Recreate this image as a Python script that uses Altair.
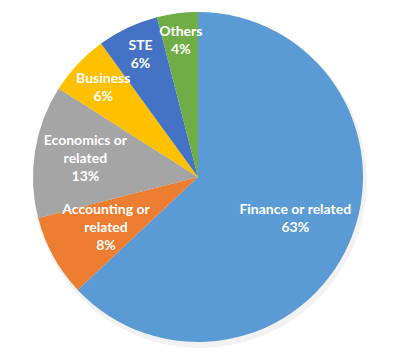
import altair as alt
import pandas as pd
import math

categories = ["Finance or related", "Accounting or related", "Economics or related",
              "Business", "STE", "Others"]
labels = ["Finance or related\n63%", "Accounting or\nrelated\n8%", "Economics or\nrelated\n13%",
          "Business\n6%", "STE\n6%", "Others\n4%"]
values = [63, 8, 13, 6, 6, 4]
colors = ["#5B9BD5", "#ED7D31", "#A5A5A5", "#FFC000", "#4472C4", "#70AD47"]

# label distance from centre (style)
label_radius = {"Finance or related": 106, "Accounting or related": 105,
                "Economics or related": 114, "Business": 130, "STE": 135, "Others": 137}

LH = 18

df = pd.DataFrame({"category": categories, "label": labels, "value": values,
                   "order": list(range(len(categories)))})
df["lr"] = df["category"].map(label_radius)

CX, CY, R = 190, 169, 165
total = sum(values)

shadow = alt.Chart(df).mark_arc(color="#000000", opacity=0.05, radius=R + 2).encode(
    theta=alt.Theta("value:Q", stack=True), order=alt.Order("order:Q"),
    x=alt.value(CX + 2), y=alt.value(CY + 4))

pie = alt.Chart(df).mark_arc(radius=R).encode(
    theta=alt.Theta("value:Q", stack=True),
    order=alt.Order("order:Q"),
    color=alt.Color("category:N", scale=alt.Scale(domain=categories, range=colors), legend=None),
    x=alt.value(CX), y=alt.value(CY),
)


def label_layer(nlines):
    return alt.Chart(df).transform_window(
        cum="sum(value)", sort=[alt.SortField("order")], frame=[None, 0]
    ).transform_calculate(
        mid="datum.cum - datum.value / 2",
        nl="split(datum.label, '\\n').length"
    ).transform_filter(f"datum.nl == {nlines}").mark_text(
        font="Lato", fontWeight="bold", fontSize=14, color="white",
        lineBreak="\n", lineHeight=LH, align="center", baseline="middle",
        dy=-(nlines - 1) * LH / 2).encode(
        text="label:N",
        theta=alt.Theta("mid:Q", stack=None,
                        scale=alt.Scale(domain=[0, total], range=[0, 2 * math.pi])),
        radius=alt.Radius("lr:Q", scale=None),
        x=alt.value(CX), y=alt.value(CY),
    )


chart = alt.layer(shadow, pie, label_layer(2), label_layer(3)).resolve_scale(
    theta="independent").properties(
    width=384, height=341, padding=0, background="white").configure_view(stroke=None)

chart.save("out.html", embed_options={"renderer": "svg", "actions": False})
